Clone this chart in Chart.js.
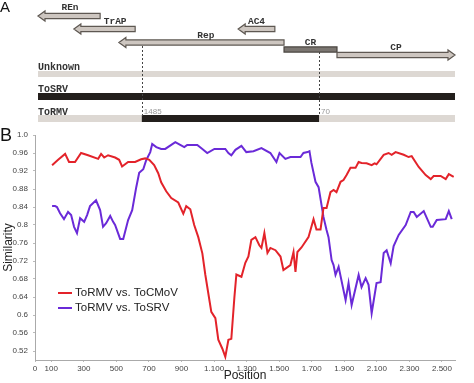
<!DOCTYPE html>
<html>
<head>
<meta charset="utf-8">
<script src="https://cdn.jsdelivr.net/npm/chart.js@4.4.1/dist/chart.umd.min.js"></script>
<style>
html,body{margin:0;padding:0;background:#fff;}
#wrap{position:relative;width:474px;height:383px;overflow:hidden;}
canvas{position:absolute;left:0;}
</style>
</head>
<body>
<div id="wrap">
<canvas id="mapChart" width="474" height="125" style="top:0"></canvas>
<canvas id="simChart" width="474" height="258" style="top:125px"></canvas>
</div>
<script>
// ---------- Panel A: genome map (arbitrary map units 0..1000) ----------
const geneNames  = ['REn', 'TrAP', 'AC4', 'Rep', 'CR', 'CP'];
const geneStart  = [0, 86, 480, 194, 590, 717];
const geneEnd    = [149, 233, 568, 590, 717, 1000];
const geneStrand = ['-', '-', '-', '-', '0', '+'];
const trackNames = ['Unknown', 'ToSRV', 'ToRMV'];
const breakPos    = [249, 674];
const breakLabels = ['1485', '70'];

// ---------- Panel B: similarity plot ----------
const cmovPos = [105,142,185,209,246,283,326,388,406,425,449,492,517,535,572,615,652,677,702,732,757,775,806,837,880,911,929,954,978,1003,1028,1046,1083,1108,1126,1151,1169,1188,1206,1225,1237,1268,1292,1311,1329,1354,1378,1391,1409,1428,1446,1477,1508,1526,1569,1588,1600,1612,1637,1680,1711,1729,1754,1772,1791,1815,1834,1852,1877,1895,1914,1938,1969,1988,2006,2037,2068,2086,2098,2142,2172,2191,2215,2265,2295,2314,2357,2400,2431,2449,2492,2523,2542,2572];
const cmovSim = [0.933,0.945,0.958,0.94,0.94,0.96,0.955,0.947,0.958,0.95,0.955,0.95,0.945,0.93,0.94,0.94,0.946,0.948,0.945,0.933,0.915,0.895,0.875,0.86,0.85,0.825,0.842,0.835,0.8,0.773,0.737,0.69,0.607,0.593,0.545,0.525,0.507,0.545,0.547,0.64,0.69,0.685,0.716,0.73,0.767,0.773,0.755,0.749,0.782,0.738,0.749,0.744,0.73,0.70,0.711,0.74,0.696,0.74,0.75,0.773,0.813,0.79,0.79,0.838,0.838,0.873,0.878,0.873,0.896,0.90,0.911,0.927,0.927,0.94,0.938,0.937,0.933,0.937,0.935,0.956,0.96,0.956,0.962,0.956,0.951,0.953,0.929,0.911,0.902,0.909,0.909,0.902,0.913,0.907];
const srvPos = [105,123,135,154,178,203,222,240,258,277,302,320,338,375,400,418,437,462,480,492,523,542,572,597,622,640,665,683,708,720,745,775,800,837,862,892,917,935,997,1028,1058,1102,1169,1188,1206,1231,1268,1298,1342,1391,1446,1483,1502,1538,1569,1631,1649,1674,1686,1698,1723,1742,1772,1791,1803,1822,1834,1846,1865,1908,1926,1945,1988,2006,2031,2049,2068,2098,2123,2142,2160,2185,2203,2234,2277,2308,2326,2345,2388,2431,2443,2468,2523,2542,2560];
const srvSim = [0.842,0.842,0.84,0.826,0.813,0.829,0.822,0.796,0.782,0.815,0.807,0.822,0.842,0.855,0.833,0.796,0.804,0.82,0.807,0.80,0.769,0.769,0.811,0.833,0.884,0.916,0.924,0.944,0.962,0.98,0.973,0.969,0.969,0.978,0.984,0.978,0.973,0.978,0.978,0.969,0.96,0.969,0.969,0.96,0.955,0.967,0.976,0.962,0.964,0.971,0.96,0.94,0.96,0.947,0.951,0.951,0.96,0.962,0.964,0.938,0.896,0.884,0.818,0.789,0.773,0.722,0.711,0.689,0.707,0.633,0.671,0.622,0.689,0.662,0.682,0.667,0.604,0.671,0.673,0.738,0.744,0.715,0.753,0.778,0.80,0.829,0.829,0.818,0.831,0.796,0.796,0.811,0.813,0.831,0.813];
const seriesLabels = ['ToRMV vs. ToCMoV', 'ToRMV vs. ToSRV'];
const xTickValues = [0,100,300,500,700,900,1100,1300,1500,1700,1900,2100,2300,2500];
const yTickValues = [0.52,0.56,0.6,0.64,0.68,0.72,0.76,0.8,0.84,0.88,0.92,0.96,1.0];

// ---------- Panel A chart ----------
const geneRowY = {REn:16, TrAP:29, AC4:29, Rep:42.5, CR:49.5, CP:55};
const geneLabelY = {REn:8, TrAP:22, AC4:22, Rep:35.5, CR:42.5, CP:47.5};
const trackLabelY = [67, 89, 112];
const trackBarY = [[71,77],[93,100],[115,122]];

const mapPlugin = {
  id: 'genomeMap',
  afterDraw(chart) {
    const ctx = chart.ctx, xs = chart.scales.x, ys = chart.scales.y;
    const X = v => xs.getPixelForValue(v), Y = v => ys.getPixelForValue(v);
    ctx.save();
    ctx.fillStyle = '#111';
    ctx.font = '15px "Liberation Sans", Arial, sans-serif';
    ctx.textBaseline = 'top';
    ctx.textAlign = 'left';
    ctx.fillText('A', 0, 0);
    const x0 = X(0), x1 = X(1000);
    trackNames.forEach((n, i) => {
      const [t, b] = trackBarY[i];
      ctx.fillStyle = n === 'ToSRV' ? '#231f1c' : '#ddd8d3';
      ctx.fillRect(x0, Y(t), x1 - x0, Y(b) - Y(t));
      if (n === 'ToRMV') {
        ctx.fillStyle = '#231f1c';
        ctx.fillRect(X(breakPos[0]), Y(t), X(breakPos[1]) - X(breakPos[0]), Y(b) - Y(t));
      }
    });
    ctx.strokeStyle = '#444';
    ctx.lineWidth = 1;
    ctx.setLineDash([2, 2]);
    ctx.beginPath();
    ctx.moveTo(Math.round(X(breakPos[0])) + 0.5, Y(46)); ctx.lineTo(Math.round(X(breakPos[0])) + 0.5, Y(116));
    ctx.moveTo(Math.round(X(breakPos[1])) + 0.5, Y(52)); ctx.lineTo(Math.round(X(breakPos[1])) + 0.5, Y(116));
    ctx.stroke();
    ctx.setLineDash([]);
    ctx.fillStyle = '#999';
    ctx.font = '8px "Liberation Sans", Arial, sans-serif';
    ctx.textBaseline = 'middle';
    ctx.textAlign = 'left';
    breakLabels.forEach((l, i) => ctx.fillText(l, X(breakPos[i]) + 2, Y(112)));
    ctx.fillStyle = '#333';
    ctx.font = 'bold 10px "Liberation Mono", "Courier New", monospace';
    trackNames.forEach((n, i) => ctx.fillText(n, x0, Y(trackLabelY[i])));
    geneNames.forEach((n, i) => {
      const s = X(geneStart[i]), e = X(geneEnd[i]), cy = Y(geneRowY[n]);
      const bh = 2.6, hh = 5, hl = 7;
      ctx.beginPath();
      if (geneStrand[i] === '-') {
        ctx.moveTo(s, cy);
        ctx.lineTo(s + hl, cy - hh);
        ctx.lineTo(s + hl, cy - bh);
        ctx.lineTo(e, cy - bh);
        ctx.lineTo(e, cy + bh);
        ctx.lineTo(s + hl, cy + bh);
        ctx.lineTo(s + hl, cy + hh);
        ctx.closePath();
        ctx.fillStyle = '#cdc6c0';
        ctx.strokeStyle = '#5e5852';
      } else if (geneStrand[i] === '+') {
        ctx.moveTo(e, cy);
        ctx.lineTo(e - hl, cy - hh);
        ctx.lineTo(e - hl, cy - bh);
        ctx.lineTo(s, cy - bh);
        ctx.lineTo(s, cy + bh);
        ctx.lineTo(e - hl, cy + bh);
        ctx.lineTo(e - hl, cy + hh);
        ctx.closePath();
        ctx.fillStyle = '#cdc6c0';
        ctx.strokeStyle = '#5e5852';
      } else {
        ctx.rect(s, cy - bh, e - s, bh * 2);
        ctx.fillStyle = '#7b7671';
        ctx.strokeStyle = '#4a4540';
      }
      ctx.lineWidth = 1.2;
      ctx.fill();
      ctx.stroke();
      ctx.fillStyle = '#333';
      ctx.font = 'bold 9.5px "Liberation Mono", "Courier New", monospace';
      ctx.textAlign = 'center';
      ctx.textBaseline = 'middle';
      let lx = (s + e) / 2;
      if (n === 'REn') lx = s + 32;
      if (n === 'TrAP') lx = e - 20;
      if (n === 'Rep') lx = s + 87;
      ctx.fillText(n, lx, Y(geneLabelY[n]));
      ctx.textAlign = 'left';
    });
    ctx.restore();
  }
};

new Chart(document.getElementById('mapChart'), {
  type: 'scatter',
  data: { datasets: [] },
  options: {
    responsive: false,
    animation: false,
    devicePixelRatio: 1,
    layout: { padding: { left: 38, right: 19, top: 0, bottom: 0 } },
    plugins: { legend: { display: false }, tooltip: { enabled: false } },
    scales: {
      x: { type: 'linear', min: 0, max: 1000, display: false },
      y: { type: 'linear', min: 0, max: 125, reverse: true, display: false }
    }
  },
  plugins: [mapPlugin]
});

// ---------- Panel B chart ----------
const fmtThousands = v => {
  if (v < 1000) return String(v);
  const th = Math.floor(v / 1000), rest = String(v % 1000).padStart(3, '0');
  return th + '.' + rest;
};
const fmtY = v => (Math.abs(v - 1) < 1e-9 ? '1.0' : String(Math.round(v * 100) / 100));

const simLegend = {
  id: 'simLegend',
  afterDraw(chart) {
    const ctx = chart.ctx, ca = chart.chartArea;
    ctx.save();
    ctx.fillStyle = '#111';
    ctx.font = '18px "Liberation Sans", Arial, sans-serif';
    ctx.textBaseline = 'top';
    ctx.textAlign = 'left';
    ctx.fillText('B', 0, 2);
    ctx.font = '11.5px "Liberation Sans", Arial, sans-serif';
    ctx.textBaseline = 'middle';
    chart.data.datasets.forEach((ds, i) => {
      const y = ca.top + 158 + i * 15;
      const x = ca.left + 23;
      ctx.strokeStyle = ds.borderColor;
      ctx.lineWidth = 2;
      ctx.beginPath();
      ctx.moveTo(x, y); ctx.lineTo(x + 14, y);
      ctx.stroke();
      ctx.fillStyle = '#222';
      ctx.fillText(ds.label, x + 17, y);
    });
    ctx.restore();
  }
};

new Chart(document.getElementById('simChart'), {
  type: 'line',
  data: {
    datasets: [
      { label: seriesLabels[0], data: cmovPos.map((x, i) => ({ x, y: cmovSim[i] })),
        borderColor: '#e3232a', borderWidth: 2, pointRadius: 0, tension: 0, fill: false },
      { label: seriesLabels[1], data: srvPos.map((x, i) => ({ x, y: srvSim[i] })),
        borderColor: '#6a2ad8', borderWidth: 2, pointRadius: 0, tension: 0, fill: false }
    ]
  },
  options: {
    responsive: false,
    animation: false,
    devicePixelRatio: 1,
    layout: { padding: { left: 1, right: 19, top: 10, bottom: 0 } },
    plugins: { legend: { display: false }, tooltip: { enabled: false } },
    scales: {
      x: {
        type: 'linear', min: 0, max: 2580,
        afterBuildTicks: s => { s.ticks = xTickValues.map(v => ({ value: v })); },
        afterFit: s => { s.height = 23; },
        grid: { display: true, drawOnChartArea: false, tickLength: 2, color: '#bbb' },
        border: { color: '#aaa' },
        ticks: { autoSkip: false, maxRotation: 0, padding: 2, color: '#444',
                 font: { size: 8, family: '"Liberation Sans", Arial, sans-serif' },
                 callback: v => fmtThousands(v) },
        title: { display: true, text: 'Position', color: '#222', padding: { top: 0, bottom: 0 },
                 font: { size: 12, family: '"Liberation Sans", Arial, sans-serif' } }
      },
      y: {
        type: 'linear', min: 0.5, max: 1.0,
        afterBuildTicks: s => { s.ticks = yTickValues.map(v => ({ value: v })); },
        afterFit: s => { s.width = 34; },
        grid: { display: true, drawOnChartArea: false, tickLength: 2, color: '#bbb' },
        border: { color: '#aaa' },
        ticks: { autoSkip: false, padding: 5, color: '#444',
                 font: { size: 8, family: '"Liberation Sans", Arial, sans-serif' },
                 callback: v => fmtY(v) },
        title: { display: true, text: 'Similarity', color: '#222', padding: { top: 0, bottom: 0 },
                 font: { size: 12, family: '"Liberation Sans", Arial, sans-serif' } }
      }
    }
  },
  plugins: [simLegend]
});
</script>
</body>
</html>
